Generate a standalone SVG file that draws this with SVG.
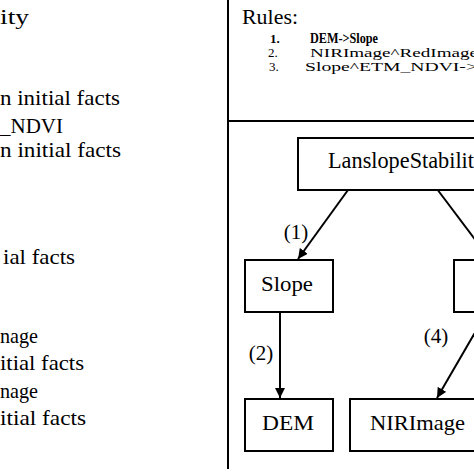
<svg xmlns="http://www.w3.org/2000/svg" width="474" height="474" viewBox="0 0 474 474">
<style>
.t{font-family:"Liberation Serif","Times New Roman",serif;fill:#000}
.l{font-size:22px}
.r{font-size:13px}
.n{font-size:21px}
.box{fill:#fff;stroke:#000;stroke-width:2}
.edge{stroke:#000;stroke-width:2;fill:none}
</style>
<defs>
<marker id="ah" viewBox="0 0 10 10" refX="10" refY="5" markerWidth="5" markerHeight="5" orient="auto" markerUnits="strokeWidth">
<path d="M0,0 L10,5 L0,10 z" fill="#000"/>
</marker>
</defs>
<rect x="0" y="0" width="474" height="474" fill="#fff"/>
<g id="left-text" class="t l">
<text x="0" y="24" textLength="29" lengthAdjust="spacingAndGlyphs">ity</text>
<text x="0" y="105" textLength="120" lengthAdjust="spacingAndGlyphs">n initial facts</text>
<text x="0" y="133" textLength="63" lengthAdjust="spacingAndGlyphs">_NDVI</text>
<text x="0" y="157" textLength="121" lengthAdjust="spacingAndGlyphs">n initial facts</text>
<text x="3" y="264" textLength="72" lengthAdjust="spacingAndGlyphs">ial facts</text>
<text x="0" y="343" textLength="38" lengthAdjust="spacingAndGlyphs">nage</text>
<text x="0" y="370" textLength="84" lengthAdjust="spacingAndGlyphs">itial facts</text>
<text x="0" y="398" textLength="38" lengthAdjust="spacingAndGlyphs">nage</text>
<text x="0" y="425" textLength="86" lengthAdjust="spacingAndGlyphs">itial facts</text>
</g>
<g id="frame">
<line x1="228" y1="0" x2="228" y2="469" stroke="#000" stroke-width="2"/>
<line x1="228" y1="121" x2="474" y2="121" stroke="#000" stroke-width="2"/>
</g>
<g id="rules" class="t">
<text x="242" y="24" font-size="21" textLength="56" lengthAdjust="spacingAndGlyphs">Rules:</text>
<text x="270" y="43" class="r" font-weight="bold">1.</text>
<text x="310" y="43" font-size="14" font-weight="bold" textLength="68" lengthAdjust="spacingAndGlyphs">DEM-&gt;Slope</text>
<text x="268" y="57" class="r">2.</text>
<text x="310" y="57" class="r" textLength="168" lengthAdjust="spacingAndGlyphs">NIRImage^RedImage</text>
<text x="269" y="71" class="r">3.</text>
<text x="305" y="71" class="r" textLength="172" lengthAdjust="spacingAndGlyphs">Slope^ETM_NDVI-&gt;</text>
</g>
<g id="connectors">
<line class="edge" x1="348" y1="190" x2="298" y2="259" marker-end="url(#ah)"/>
<line class="edge" x1="437" y1="189" x2="480" y2="246"/>
<line class="edge" x1="280" y1="312" x2="280" y2="398" marker-end="url(#ah)"/>
<line class="edge" x1="480" y1="324" x2="437" y2="398" marker-end="url(#ah)"/>
<text class="t n" x="296" y="239" text-anchor="middle">(1)</text>
<text class="t n" x="261" y="360" text-anchor="middle">(2)</text>
<text class="t n" x="436" y="343" text-anchor="middle">(4)</text>
</g>
<g id="node-top">
<rect class="box" x="298" y="138" width="190" height="52"/>
<text class="t" x="328" y="168" font-size="23" textLength="146" lengthAdjust="spacingAndGlyphs">LanslopeStabilit</text>
</g>
<g id="node-slope">
<rect class="box" x="245" y="260" width="88" height="52"/>
<text class="t n" x="261" y="291" textLength="52" lengthAdjust="spacingAndGlyphs">Slope</text>
</g>
<g id="node-right">
<rect class="box" x="454" y="260" width="40" height="52"/>
</g>
<g id="node-dem">
<rect class="box" x="245" y="399" width="88" height="52"/>
<text class="t n" x="262" y="430" textLength="52" lengthAdjust="spacingAndGlyphs">DEM</text>
</g>
<g id="node-nirimage">
<rect class="box" x="350" y="399" width="140" height="52"/>
<text class="t n" x="370" y="430" textLength="95" lengthAdjust="spacingAndGlyphs">NIRImage</text>
</g>
</svg>
